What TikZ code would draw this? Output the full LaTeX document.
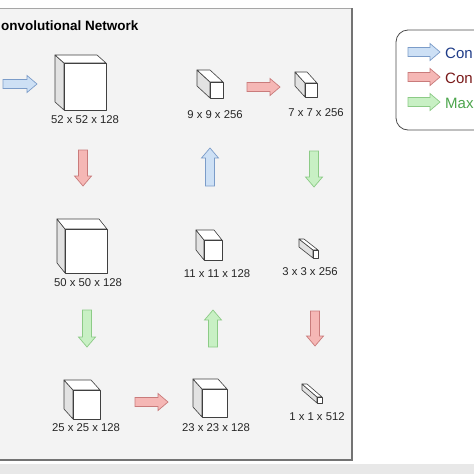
\documentclass[tikz,border=0pt]{standalone}
\usepackage{fontspec}
\setmainfont{Liberation Sans}
\definecolor{panel}{HTML}{F3F3F3}
\definecolor{band}{HTML}{E8E8E8}
\definecolor{sidegray}{HTML}{E2E2E2}
\definecolor{boxline}{HTML}{404040}
\definecolor{bfill}{HTML}{CDE0F5}\definecolor{bdraw}{HTML}{7B9CC9}
\definecolor{rfill}{HTML}{F5B7B5}\definecolor{rdraw}{HTML}{C97B7B}
\definecolor{gfill}{HTML}{C8F0C4}\definecolor{gdraw}{HTML}{8CCB86}
\definecolor{ltblue}{HTML}{1F3C88}
\definecolor{ltred}{HTML}{7A1A1A}
\definecolor{ltgreen}{HTML}{4CA64C}
\newcommand{\mybox}[6]{%
  \filldraw[boxface, fill=sidegray] (#1,#2) -- ++(#5,#6) -- ++(0,{#4-(#2)}) -- (#1,#4) -- cycle;
  \filldraw[boxface, fill=white] (#1,#2) -- ++(#5,#6) -- ++({#3-(#1)},0) -- (#3,#2) -- cycle;
  \filldraw[boxface, fill=white] (#1,#2) rectangle (#3,#4);}
\begin{document}
\begin{tikzpicture}[x=1pt,y=-1pt,
  boxface/.style={draw=boxline, line width=0.6pt, line join=round},
  dimlabel/.style={font=\fontsize{11.3}{12}\selectfont, text=black!85, inner sep=0pt},
  pics/blockarrow/.style={code={%
    \path[pic actions] (0,-4.5) -- ({#1-10},-4.5) -- ({#1-10},-8.5) -- (#1,0)
      -- ({#1-10},8.5) -- ({#1-10},4.5) -- (0,4.5) -- cycle;}},
  bluearrow/.style={fill=bfill, draw=bdraw, line width=0.7pt, line join=miter},
  redarrow/.style={fill=rfill, draw=rdraw, line width=0.7pt, line join=miter},
  greenarrow/.style={fill=gfill, draw=gdraw, line width=0.7pt, line join=miter},
  legtext/.style={font=\fontsize{15}{17}\selectfont, anchor=west, inner sep=0pt}]
\useasboundingbox (0,0) rectangle (474,474);
\clip (0,0) rectangle (474,474);
% panel
\fill[panel] (-5,8) rectangle (352,460);
\draw[black!35, line width=0.8pt] (-5,8) -- (352,8);
\draw[black!55, line width=1.2pt] (352,8) -- (352,460) -- (-5,460);
\fill[band] (0,464) rectangle (474,474);
\node[anchor=west, inner sep=0pt, font=\fontsize{13.5}{15}\selectfont\bfseries] (title) at (1,26) {onvolutional Network};
% boxes
\mybox{64}{63}{106}{110}{-9}{-8}
\mybox{65}{229}{107}{273}{-8}{-10}
\mybox{73}{390}{100}{419}{-9}{-10}
\mybox{202}{389}{227}{417}{-9}{-10}
\mybox{204}{240}{222}{260}{-8}{-10}
\mybox{210}{82}{223}{98}{-13}{-12}
\mybox{305}{83}{317}{97}{-10}{-11}
\mybox{313}{250}{318}{258}{-14}{-11}
\mybox{317}{397}{322}{403}{-15}{-13}
% labels
\node[dimlabel] (l1) at (85,120) {52 x 52 x 128};
\node[dimlabel] (l2) at (88,283) {50 x 50 x 128};
\node[dimlabel] (l3) at (86,428) {25 x 25 x 128};
\node[dimlabel] (l4) at (216,428) {23 x 23 x 128};
\node[dimlabel] (l5) at (217,274) {11 x 11 x 128};
\node[dimlabel] (l6) at (215,115) {9 x 9 x 256};
\node[dimlabel] (l7) at (316,113) {7 x 7 x 256};
\node[dimlabel] (l8) at (310,272) {3 x 3 x 256};
\node[dimlabel] (l9) at (317,417) {1 x 1 x 512};
% arrows
\pic[bluearrow] (a0) at (3,84) {blockarrow=34};
\pic[redarrow, rotate=-90] (a1) at (83,150) {blockarrow=36};
\pic[greenarrow, rotate=-90] (a2) at (87,310) {blockarrow=37};
\pic[redarrow] (a3) at (135,402) {blockarrow=33};
\pic[greenarrow, rotate=90] (a4) at (213,347) {blockarrow=37};
\pic[bluearrow, rotate=90] (a5) at (210,186) {blockarrow=38};
\pic[redarrow] (a6) at (247,87) {blockarrow=33};
\pic[greenarrow, rotate=-90] (a7) at (314,151) {blockarrow=36};
\pic[redarrow, rotate=-90] (a8) at (315,311) {blockarrow=35};
% legend
\draw[black!70, line width=0.8pt, fill=white, rounded corners=12pt] (396,30) rectangle (500,130);
\pic[bluearrow] (lg1) at (408,52) {blockarrow=32};
\pic[redarrow] (lg2) at (408,77) {blockarrow=32};
\pic[greenarrow] (lg3) at (408,102) {blockarrow=32};
\node[legtext, text=ltblue] (t1) at (445,53) {Con};
\node[legtext, text=ltred] (t2) at (445,78) {Con};
\node[legtext, text=ltgreen] (t3) at (445,103) {Max};
\end{tikzpicture}
\end{document}
